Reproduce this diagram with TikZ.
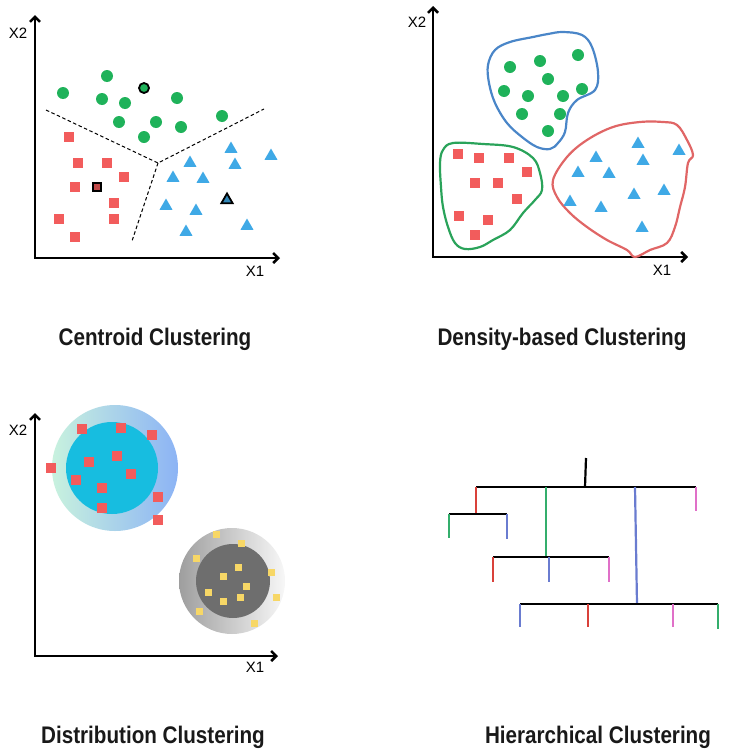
\documentclass[tikz,border=0pt]{standalone}
\usepackage{fontspec}
\setmainfont{Liberation Sans}
\newfontfamily\labfont{Liberation Sans}[FakeStretch=0.86]
\usetikzlibrary{arrows.meta,shapes.geometric}
\definecolor{cgreen}{HTML}{1FB25A}
\definecolor{cred}{HTML}{F25C5C}
\definecolor{cblue}{HTML}{3FA9E6}
\definecolor{bblue}{HTML}{4A86C8}
\definecolor{bgreen}{HTML}{2AA35A}
\definecolor{bred}{HTML}{E06666}
\definecolor{mint}{HTML}{C8F2DE}
\definecolor{softblue}{HTML}{8CB3F5}
\definecolor{cyanin}{HTML}{17BDE0}
\definecolor{ygold}{HTML}{F7D766}
\definecolor{dgray}{HTML}{6E6E6E}
\definecolor{hred}{HTML}{D9413A}
\definecolor{hgreen}{HTML}{34AE6C}
\definecolor{hblue}{HTML}{6A7CD0}
\definecolor{hpink}{HTML}{E070C8}
\tikzset{
  axis/.style={line width=2.5pt, line join=miter, arrows={Straight Barb[length=5pt,width=10pt]-Straight Barb[length=5pt,width=10pt]}},
  axlab/.style={font=\fontsize{15}{17}\selectfont, inner sep=0pt},
  title/.style={font=\labfont\bfseries\fontsize{24}{28}\selectfont, inner sep=0pt, anchor=base, text=black!90},
  gdot/.style={circle, fill=cgreen, inner sep=0pt, minimum size=12pt},
  rsq/.style={rectangle, fill=cred, inner sep=0pt, minimum size=10pt},
  btri/.style={regular polygon, regular polygon sides=3, fill=cblue, inner sep=0pt, minimum size=15pt},
  cent/.style={draw=black, line width=1.8pt},
  divider/.style={line width=1pt, dash pattern=on 3.5pt off 2.5pt},
  blob/.style={line width=2.2pt, line join=round},
  dsq/.style={rectangle, fill=cred, inner sep=0pt, minimum size=10pt},
  ysq/.style={rectangle, fill=ygold, inner sep=0pt, minimum size=7pt},
  hline/.style={line width=2.2pt},
}
\begin{document}
\begin{tikzpicture}[x=1pt,y=-1pt]
\useasboundingbox (0,0) rectangle (738,755);
% ---------------- Centroid clustering ----------------
\coordinate (ct) at (35,15); \coordinate (co) at (35,258); \coordinate (cr) at (280,258);
\draw[axis] (ct) -- (co) -- (cr);
\node[axlab] (cx2) at (18,33) {X2};
\node[axlab] (cx1) at (255,271) {X1};
\coordinate (dc) at (158,163);
\coordinate (d1) at (46,110); \coordinate (d2) at (264,109); \coordinate (d3) at (132,241);
\draw[divider] (d1) -- (dc) -- (d2);
\draw[divider] (dc) -- (d3);
\foreach \x/\y [count=\i] in {107/76,63/93,102/99,125/103,177/98,222/116,119/122,156/122,181/127,144/137}
  \node[gdot] (cg\i) at (\x,\y) {};
\node[gdot,cent,minimum size=10pt] (cgc) at (144,88) {};
\foreach \x/\y [count=\i] in {69/137,78/163,107/163,124/177,75/187,114/203,59/219,114/219,75/237}
  \node[rsq] (cs\i) at (\x,\y) {};
\node[rsq,cent,fill=cred!80!black,minimum size=8pt] (csc) at (97,187) {};
\foreach \x/\y [count=\i] in {231/149,271/156,190/163,235/165,173/178,203/179,166/206,196/211,247/226,186/232}
  \node[btri] (ctr\i) at (\x,\y) {};
\node[btri,cent,fill=cblue!80!black,minimum size=13pt] (ctrc) at (227,200) {};
\node[title] (t1) at (155,345) {Centroid Clustering};
% ---------------- Density-based clustering ----------------
\coordinate (dt) at (433,6); \coordinate (do) at (433,257); \coordinate (dr) at (688,257);
\draw[axis] (dt) -- (do) -- (dr);
\node[axlab] (dx2) at (417,22) {X2};
\node[axlab] (dx1) at (662,270) {X1};
\draw[blob, draw=bblue] plot[smooth cycle, tension=0.6] coordinates {
  (563,32) (582,35) (592,47) (598,72) (595,90) (577,100) (568,113) (565,132) (558,143) (550,149)
  (537,147) (522,137) (507,123) (495,103) (489,83) (488,65) (495,50) (510,42) (533,37) (548,34)};
\draw[blob, draw=bgreen] plot[smooth cycle, tension=0.6] coordinates {
  (453,143) (483,144) (513,147) (533,158) (540,173) (542,190) (535,200) (523,213) (510,230) (493,240)
  (480,247) (465,249) (455,243) (448,227) (443,207) (441,187) (440,163) (443,150)};
\draw[blob, draw=bred] plot[smooth cycle, tension=0.6] coordinates {
  (567,157) (587,140) (613,127) (640,122) (663,122) (677,125) (687,140) (693,155) (688,163) (685,187)
  (680,207) (675,227) (667,243) (650,250) (635,257) (627,250) (607,240) (587,227) (570,213) (557,197) (553,180)};
\foreach \x/\y [count=\i] in {510/67,540/61,578/55,548/79,504/91,528/96,563/96,582/89,522/114,560/114,548/131}
  \node[gdot] (dg\i) at (\x,\y) {};
\foreach \x/\y [count=\i] in {458/154,479/158,509/158,527/172,475/183,498/183,517/199,459/216,488/220,475/235}
  \node[rsq] (ds\i) at (\x,\y) {};
\foreach \x/\y [count=\i] in {638/144,679/151,596/158,643/161,578/173,609/174,634/195,664/191,570/202,601/208,642/228}
  \node[btri] (dtr\i) at (\x,\y) {};
\node[title] (t2) at (562,345) {Density-based Clustering};
% ---------------- Distribution clustering ----------------
\coordinate (xt) at (35,413); \coordinate (xo) at (35,656); \coordinate (xr) at (278,656);
\draw[axis] (xt) -- (xo) -- (xr);
\node[axlab] (xx2) at (18,430) {X2};
\node[axlab] (xx1) at (255,667) {X1};
\shade[left color=mint, right color=softblue] (115,468) circle (63);
\fill[cyanin] (112,468) circle (46);
\foreach \x/\y [count=\i] in {82/429,121/428,152/435,51/468,89/462,117/456,131/474,76/480,102/488,158/497,102/508,158/520}
  \node[dsq] (xs\i) at (\x,\y) {};
\shade[left color=black!38, right color=black!3] (232,581) circle (53);
\fill[dgray] (233,581) circle (37);
\foreach \x/\y [count=\i] in {216/534,241/543,196/558,238/567,223/576,271/572,246/586,208/592,240/597,223/601,276/597,199/611,254/623}
  \node[ysq] (xy\i) at (\x,\y) {};
\node[title] (t3) at (153,743) {Distribution Clustering};
% ---------------- Hierarchical clustering ----------------
\coordinate (h0) at (586,458); \coordinate (h1) at (585,487);
\coordinate (mL) at (476,487); \coordinate (mR) at (696,487);
\coordinate (mG) at (546,487); \coordinate (mB) at (635,487);
\draw[hline] (h0) -- (h1);
\draw[hline] (mL) -- (mR);
% red branch -> sub 1
\coordinate (aB) at (476,513);
\draw[hline, hred] (mL) -- (aB);
\coordinate (s1L) at (449,514); \coordinate (s1R) at (507,514);
\coordinate (s1Lb) at (449,538); \coordinate (s1Rb) at (507,539);
\draw[hline] (s1L) -- (s1R);
\draw[hline, hgreen] (s1L) -- (s1Lb);
\draw[hline, hblue] (s1R) -- (s1Rb);
% green branch -> sub 2
\coordinate (gB) at (546,557);
\draw[hline, hgreen] (mG) -- (gB);
\coordinate (s2L) at (493,557); \coordinate (s2M) at (549,557); \coordinate (s2R) at (609,557);
\coordinate (s2Lb) at (493,582); \coordinate (s2Mb) at (549,582); \coordinate (s2Rb) at (609,582);
\draw[hline] (s2L) -- (s2R);
\draw[hline, hred] (s2L) -- (s2Lb);
\draw[hline, hblue] (s2M) -- (s2Mb);
\draw[hline, hpink] (s2R) -- (s2Rb);
% blue branch -> sub 3
\coordinate (bB) at (637,604);
\draw[hline, hblue] (mB) -- (bB);
\coordinate (s3L) at (520,604); \coordinate (s3A) at (588,604); \coordinate (s3B) at (673,604); \coordinate (s3R) at (718,604);
\coordinate (s3Lb) at (520,627); \coordinate (s3Ab) at (588,627); \coordinate (s3Bb) at (673,627); \coordinate (s3Rb) at (718,629);
\draw[hline] (s3L) -- (s3R);
\draw[hline, hblue] (s3L) -- (s3Lb);
\draw[hline, hred] (s3A) -- (s3Ab);
\draw[hline, hpink] (s3B) -- (s3Bb);
\draw[hline, hgreen] (s3R) -- (s3Rb);
% pink leaf
\coordinate (pB) at (696,511);
\draw[hline, hpink] (mR) -- (pB);
\node[title] (t4) at (598,743) {Hierarchical Clustering};
\end{tikzpicture}
\end{document}
